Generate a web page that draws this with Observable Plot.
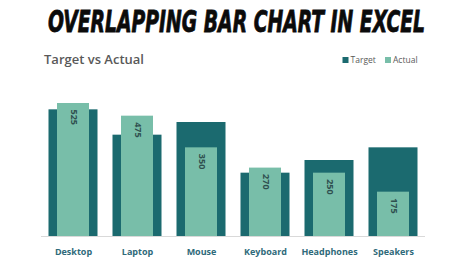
<!DOCTYPE html>
<html>
<head>
<meta charset="utf-8">
<script src="https://cdn.jsdelivr.net/npm/d3@7"></script>
<script src="https://cdn.jsdelivr.net/npm/@observablehq/plot@0.6"></script>
<style>
  html, body { margin: 0; padding: 0; background: #fff; }
  #wrap { position: relative; width: 474px; height: 266px; overflow: hidden; }
  svg { display: block; }
  #title { position: absolute; left: 48px; top: 7px; white-space: nowrap;
    font-family: 'DejaVu Sans'; font-stretch: condensed; font-weight: bold; font-style: italic;
    font-size: 30px; line-height: 30px; color: #0b0b0b; -webkit-text-stroke: 0.8px #0b0b0b;
    transform-origin: 0 0; }
</style>
</head>
<body>
<div id="wrap">
  <svg id="head" width="474" height="74">
    <text x="44" y="64" style="font-family:'Open Sans';font-weight:600;font-size:13px;fill:#595959;">Target vs Actual</text>
    <g id="legend"></g>
  </svg>
  <div id="title">OVERLAPPING BAR CHART IN EXCEL</div>
  <div id="chart"></div>
</div>
<script>
const categories = ["Desktop", "Laptop", "Mouse", "Keyboard", "Headphones", "Speakers"];
const target = [500, 400, 450, 250, 300, 350];
const actual = [525, 475, 350, 270, 250, 175];
const seriesNames = ["Target", "Actual"];
const seriesColors = ["#1b6a6f", "#78bea9"];

// fit title to reference width
const titleEl = document.getElementById("title");
const natural = titleEl.getBoundingClientRect().width;
titleEl.style.transform = `scaleX(${377 / natural})`;

// legend
const lg = d3.select("#legend");
const legendX = [342.5, 385];
seriesNames.forEach((name, i) => {
  lg.append("rect").attr("x", legendX[i]).attr("y", 57).attr("width", 6).attr("height", 6).attr("fill", seriesColors[i]);
  lg.append("text").attr("x", legendX[i] + 8).attr("y", 63)
    .style("font-family", "'Open Sans'").style("font-size", "8.5px").style("fill", "#595959").text(name);
});

const rows = categories.map((c, i) => ({category: c, target: target[i], actual: actual[i]}));

const chart = Plot.plot({
  width: 474,
  height: 192,
  marginLeft: 41,
  marginRight: 49,
  marginTop: 10,
  marginBottom: 30,
  style: {fontFamily: "'Open Sans'", background: "transparent"},
  x: {domain: categories, padding: 0, label: null},
  y: {domain: [0, 600], axis: null},
  marks: [
    Plot.barY(rows, {x: "category", y: "target", fill: seriesColors[0], insetLeft: 7.5, insetRight: 7.5}),
    Plot.barY(rows, {x: "category", y: "actual", fill: seriesColors[1], insetLeft: 16, insetRight: 16}),
    Plot.ruleY([0], {stroke: "#d9d9d9", strokeWidth: 1}),
    Plot.text(rows, {x: "category", y: "actual", text: d => String(d.actual), rotate: 90, textAnchor: "start", dy: 6,
      fill: "#2f4f4f", fontSize: 9, fontWeight: "bold"}),
    Plot.axisX({tickSize: 0, tickPadding: 12, fontSize: 9, fontWeight: "bold", color: "#2f6a7a", label: null})
  ]
});
document.getElementById("chart").appendChild(chart);
</script>
</body>
</html>
